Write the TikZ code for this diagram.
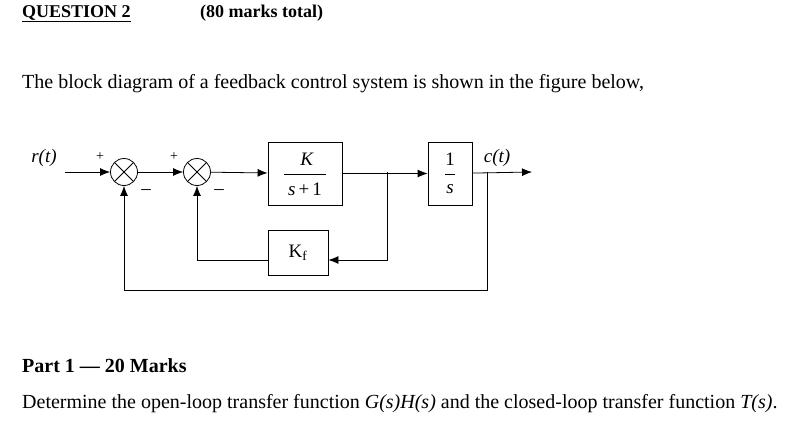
\documentclass[tikz,border=0pt]{standalone}
\usepackage{fontspec}
\setmainfont{Liberation Serif}
\usetikzlibrary{arrows.meta}
\begin{document}
\begin{tikzpicture}[x=1pt,y=-1pt,
  blk/.style={draw,line width=0.8pt,inner sep=0pt},
  sumj/.style={draw,circle,line width=0.8pt,minimum size=27pt,inner sep=0pt,path picture={\draw[line width=0.8pt] (path picture bounding box.south west)--(path picture bounding box.north east) (path picture bounding box.north west)--(path picture bounding box.south east);}},
  sig/.style={line width=0.8pt,-{Latex[length=10pt,width=8pt]}},
  ln/.style={line width=0.8pt},
  txt/.style={inner sep=0pt,anchor=base west,font=\fontsize{20}{24}\selectfont}]
\useasboundingbox (0,0) rectangle (812,447);
\node[txt,font=\bfseries\fontsize{18}{21}\selectfont] (q) at (22,17) {\underline{QUESTION 2}};
\node[txt,font=\bfseries\fontsize{18}{21}\selectfont] (m) at (200,17) {(80 marks total)};
\node[txt] (intro) at (22,88) {The block diagram of a feedback control system is shown in the figure below,};
\node[txt,font=\bfseries\fontsize{20}{24}\selectfont] (p1) at (22,372) {Part 1 — 20 Marks};
\node[txt] (det) at (22,408) {Determine the open-loop transfer function \textit{G(s)H(s)} and the closed-loop transfer function \textit{T(s)}.};

\begin{scope}[font=\fontsize{19}{22}\selectfont]
\coordinate (in) at (65,172);
\node (rt) at (44,158) {\textit{r(t)}};
\node[sumj] (s1) at (124,172) {};
\node[sumj] (s2) at (197,172) {};
\node[blk,minimum width=74pt,minimum height=63pt] (g1) at (305,173.5) {};
\draw[ln] (284,174)--(326,174);
\node (K) at (307,159) {\textit{K}};
\node (s1t) at (305,189) {\textit{s}\,+\,1};
\node[blk,minimum width=44pt,minimum height=63pt] (g2) at (450,173.5) {};
\draw[ln] (445,174)--(455,174);
\node (one) at (450,159) {1};
\node (st) at (450,189) {\textit{s}};
\node[blk,minimum width=60pt,minimum height=45pt] (kf) at (298,252.5) {K\textsubscript{f}};
\node (ct) at (497,158) {\textit{c(t)}};
\coordinate (out) at (532,172);
\coordinate (b1) at (387,172);
\coordinate (b2) at (487,172);
\node[font=\fontsize{14}{16}\selectfont] (pl1) at (100,157) {+};
\node[font=\fontsize{14}{16}\selectfont] (pl2) at (174,157) {+};
\node (mi1) at (146,192) {\textendash};
\node (mi2) at (219,192) {\textendash};
\draw[sig] (in)--(s1);
\draw[sig] (s1)--(s2);
\draw[sig] (s2)--(g1);
\draw[sig] (g1)--(g2);
\draw[sig] (g2)--(out);
\draw[sig] (b1)|-(kf.east |- 0,260);
\draw[sig] (kf.west |- 0,260)-|(s2);
\draw[sig] (b2)|-(124,290)--(s1);
\end{scope}
\end{tikzpicture}
\end{document}
